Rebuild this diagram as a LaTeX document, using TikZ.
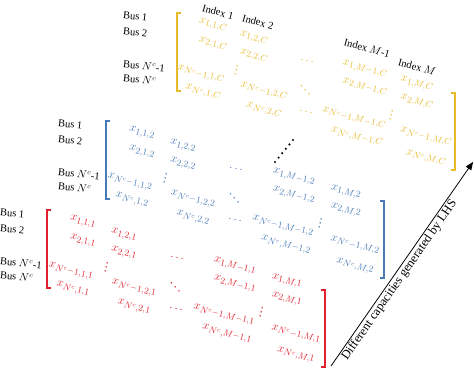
\documentclass[tikz,border=0pt]{standalone}
\usepackage{fontspec}
\setmainfont{Liberation Serif}
\usetikzlibrary{arrows}
\definecolor{ycol}{RGB}{232,186,44}
\definecolor{bcol}{RGB}{72,122,182}
\definecolor{rcol}{RGB}{224,32,44}

\begin{document}
\begin{tikzpicture}[x=1pt,y=-1pt]
    \tikzset{>=triangle 45}
    \tikzset{ent/.style={rotate=-13,inner sep=0pt,font=\fontsize{13}{15}\selectfont}}
    \tikzset{bus/.style={anchor=west,rotate=-6,inner sep=0pt,text=black,font=\fontsize{10.5}{12}\selectfont}}
    \tikzset{idx/.style={rotate=-15,inner sep=0pt,text=black,font=\fontsize{10.5}{12}\selectfont}}
    \tikzset{brk/.style={line width=1.2pt}}
  %\draw[step=20pt,gray,very thin] (0,0) grid (474,368);
  \useasboundingbox (0,0) rectangle (474,368);

  % layer C (back)
  \begin{scope}[shift={(213,25)},ycol]
\node[idx] (I1) at (5,-13) {Index 1};
\node[idx] (I2) at (45,-3) {Index 2};
\node[idx] (Ip) at (154,23) {Index $M$-1};
\node[idx] (IM) at (204,42) {Index $M$};

\node[bus] (C-b1) at (-90,-10) {Bus 1};
\node[bus] (C-b2) at (-90,6) {Bus 2};
\node[bus] (C-bn) at (-90,39) {Bus $N^c$-1};
\node[bus] (C-bN) at (-90,53) {Bus $N^c$};

\node[ent] (C-11) at (0,0) {$x_{1,1,C}$};
\node[ent] (C-21) at (0,19) {$x_{2,1,C}$};
\node[ent] (C-n1) at (-12,49) {$x_{N^c-1,1,C}$};
\node[ent] (C-N1) at (-10,67) {$x_{N^c,1,C}$};
\node[ent] (C-v1) at (24,42) {$\vdots$};
\node[ent] (C-12) at (41,13) {$x_{1,2,C}$};
\node[ent] (C-22) at (41,31) {$x_{2,2,C}$};
\node[ent] (C-n2) at (51,66) {$x_{N^c-1,2,C}$};
\node[ent] (C-N2) at (51,85) {$x_{N^c,2,C}$};
\node[ent] (C-h1) at (94,36) {$\cdots$};
\node[ent] (C-d) at (93,62) {$\ddots$};
\node[ent] (C-h2) at (93,87) {$\cdots$};
\node[ent] (C-1p) at (152,44) {$x_{1,M-1,C}$};
\node[ent] (C-2p) at (152,62) {$x_{2,M-1,C}$};
\node[ent] (C-np) at (141,93) {$x_{N^c-1,M-1,C}$};
\node[ent] (C-Np) at (144,112) {$x_{N^c,M-1,C}$};
\node[ent] (C-vp) at (179,87) {$\vdots$};
\node[ent] (C-1M) at (204,59) {$x_{1,M,C}$};
\node[ent] (C-2M) at (204,77) {$x_{2,M,C}$};
\node[ent] (C-nM) at (213,112) {$x_{N^c-1,M,C}$};
\node[ent] (C-NM) at (213,133) {$x_{N^c,M,C}$};

\draw[brk] (-32,-12) -- (-36,-12) -- (-36,66) -- (-32,66);
\draw[brk] (238,68) -- (242,68) -- (242,145) -- (238,145);
  \end{scope}

  % layer 2
  \begin{scope}[shift={(142,133)},bcol]
\node[bus] (B-b1) at (-84,-10) {Bus 1};
\node[bus] (B-b2) at (-84,6) {Bus 2};
\node[bus] (B-bn) at (-84,39) {Bus $N^c$-1};
\node[bus] (B-bN) at (-84,53) {Bus $N^c$};

\node[ent] (B-11) at (0,0) {$x_{1,1,2}$};
\node[ent] (B-21) at (0,19) {$x_{2,1,2}$};
\node[ent] (B-n1) at (-12,49) {$x_{N^c-1,1,2}$};
\node[ent] (B-N1) at (-10,67) {$x_{N^c,1,2}$};
\node[ent] (B-v1) at (24,42) {$\vdots$};
\node[ent] (B-12) at (41,13) {$x_{1,2,2}$};
\node[ent] (B-22) at (41,31) {$x_{2,2,2}$};
\node[ent] (B-n2) at (51,66) {$x_{N^c-1,2,2}$};
\node[ent] (B-N2) at (51,85) {$x_{N^c,2,2}$};
\node[ent] (B-h1) at (94,36) {$\cdots$};
\node[ent] (B-d) at (93,62) {$\ddots$};
\node[ent] (B-h2) at (93,87) {$\cdots$};
\node[ent] (B-1p) at (152,44) {$x_{1,M-1,2}$};
\node[ent] (B-2p) at (152,62) {$x_{2,M-1,2}$};
\node[ent] (B-np) at (141,93) {$x_{N^c-1,M-1,2}$};
\node[ent] (B-Np) at (144,112) {$x_{N^c,M-1,2}$};
\node[ent] (B-vp) at (179,87) {$\vdots$};
\node[ent] (B-1M) at (204,59) {$x_{1,M,2}$};
\node[ent] (B-2M) at (204,77) {$x_{2,M,2}$};
\node[ent] (B-nM) at (213,112) {$x_{N^c-1,M,2}$};
\node[ent] (B-NM) at (213,133) {$x_{N^c,M,2}$};

\draw[brk] (-32,-12) -- (-36,-12) -- (-36,66) -- (-32,66);
\draw[brk] (238,68) -- (242,68) -- (242,145) -- (238,145);
  \end{scope}

  % layer 1 (front)
  \begin{scope}[shift={(83,222)},rcol]
\node[bus] (R-b1) at (-83,-10) {Bus 1};
\node[bus] (R-b2) at (-83,6) {Bus 2};
\node[bus] (R-bn) at (-83,39) {Bus $N^c$-1};
\node[bus] (R-bN) at (-83,53) {Bus $N^c$};

\node[ent] (R-11) at (0,0) {$x_{1,1,1}$};
\node[ent] (R-21) at (0,19) {$x_{2,1,1}$};
\node[ent] (R-n1) at (-12,49) {$x_{N^c-1,1,1}$};
\node[ent] (R-N1) at (-10,67) {$x_{N^c,1,1}$};
\node[ent] (R-v1) at (24,42) {$\vdots$};
\node[ent] (R-12) at (41,13) {$x_{1,2,1}$};
\node[ent] (R-22) at (41,31) {$x_{2,2,1}$};
\node[ent] (R-n2) at (51,66) {$x_{N^c-1,2,1}$};
\node[ent] (R-N2) at (51,85) {$x_{N^c,2,1}$};
\node[ent] (R-h1) at (94,36) {$\cdots$};
\node[ent] (R-d) at (93,62) {$\ddots$};
\node[ent] (R-h2) at (93,87) {$\cdots$};
\node[ent] (R-1p) at (152,44) {$x_{1,M-1,1}$};
\node[ent] (R-2p) at (152,62) {$x_{2,M-1,1}$};
\node[ent] (R-np) at (141,93) {$x_{N^c-1,M-1,1}$};
\node[ent] (R-Np) at (144,112) {$x_{N^c,M-1,1}$};
\node[ent] (R-vp) at (179,87) {$\vdots$};
\node[ent] (R-1M) at (204,59) {$x_{1,M,1}$};
\node[ent] (R-2M) at (204,77) {$x_{2,M,1}$};
\node[ent] (R-nM) at (213,112) {$x_{N^c-1,M,1}$};
\node[ent] (R-NM) at (213,133) {$x_{N^c,M,1}$};

\draw[brk] (-32,-12) -- (-36,-12) -- (-36,66) -- (-32,66);
\draw[brk] (238,68) -- (242,68) -- (242,145) -- (238,145);
  \end{scope}

\coordinate (D0) at (275,162);
\coordinate (D1) at (293,140);
\draw[line width=2.4pt,line cap=round,dash pattern=on 0pt off 5.68pt] (D0) -- (D1);

\coordinate (lo) at (331,366);
\coordinate (hi) at (473,162);
\draw [->,line width=0.8pt] (lo) -- node[sloped,below,pos=0.44,inner sep=1pt,font=\fontsize{12.5}{14}\selectfont] (lhs) {Different capacities generated by LHS} (hi);

\end{tikzpicture}
\end{document}
